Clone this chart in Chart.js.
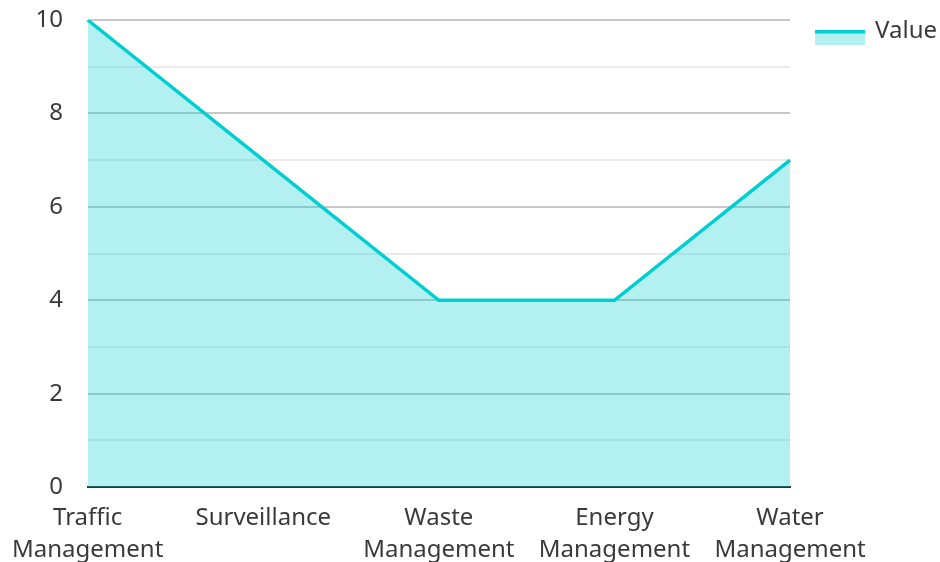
<!DOCTYPE html>
<html>
<head>
<meta charset="utf-8">
<script src="https://cdn.jsdelivr.net/npm/chart.js@4"></script>
<style>
html,body{margin:0;padding:0;background:#fff;}
#wrap{width:940px;height:562px;position:relative;}
</style>
</head>
<body>
<div id="wrap"><canvas id="c" width="940" height="562"></canvas></div>
<script>
const categories = [["Traffic","Management"],"Surveillance",["Waste","Management"],["Energy","Management"],["Water","Management"]];
const seriesName = "Value";
const values = [10, 7, 4, 4, 7];
const yTicks = [0, 2, 4, 6, 8, 10];

const lineColor = "#00CED1";
const fillColor = "rgba(0,206,209,0.3)";
const textColor = "#3a3a3a";
const FONT = "'Noto Sans', 'Open Sans', sans-serif";
const FS = 24;

const legendSymbol = {
  id: 'legendSymbol',
  afterDraw(chart) {
    const lg = chart.legend;
    if (!lg || !lg.legendHitBoxes || !lg.legendHitBoxes.length) return;
    const hb = lg.legendHitBoxes[0];
    const top = hb.top + 11;
    const left = hb.left + 6;
    const ctx = chart.ctx;
    ctx.save();
    ctx.fillStyle = fillColor;
    ctx.fillRect(left, top, 50, 15);
    ctx.strokeStyle = lineColor;
    ctx.lineWidth = 3.5;
    ctx.beginPath();
    ctx.moveTo(left, top + 1.75);
    ctx.lineTo(left + 50, top + 1.75);
    ctx.stroke();
    ctx.restore();
  }
};

new Chart(document.getElementById('c'), {
  type: 'line',
  data: {
    labels: categories,
    datasets: [{
      label: seriesName,
      data: values,
      borderColor: lineColor,
      backgroundColor: fillColor,
      borderWidth: 3.5,
      fill: 'origin',
      tension: 0,
      pointRadius: 0,
      pointHoverRadius: 0
    }]
  },
  options: {
    responsive: false,
    animation: false,
    events: [],
    layout: { padding: { top: 0, right: -7, left: 30, bottom: -19 } },
    plugins: {
      tooltip: { enabled: false },
      legend: {
        position: 'right',
        align: 'start',
        labels: {
          boxWidth: 54,
          boxHeight: 14,
          padding: 19,
          color: textColor,
          font: { family: FONT, size: FS },
          generateLabels(chart) {
            const ds = chart.data.datasets[0];
            return [{
              text: ds.label,
              fillStyle: 'rgba(0,0,0,0)',
              strokeStyle: 'rgba(0,0,0,0)',
              lineWidth: 0,
              fontColor: textColor,
              datasetIndex: 0,
              hidden: false
            }];
          }
        }
      }
    },
    scales: {
      x: {
        offset: false,
        afterFit(scale) { scale.paddingLeft = 0; scale.paddingRight = 0; },
        grid: { display: false, drawTicks: false },
        border: { display: true, color: '#333', width: 2 },
        ticks: {
          color: textColor,
          font: { family: FONT, size: FS, lineHeight: 1.33 },
          padding: 15,
          maxRotation: 0,
          autoSkip: false
        }
      },
      y: {
        min: 0,
        max: 10,
        afterBuildTicks(scale) {
          const t = [];
          for (let v = 0; v <= 10; v++) t.push({ value: v });
          scale.ticks = t;
        },
        grid: {
          drawTicks: true,
          tickLength: 19,
          tickColor: 'rgba(0,0,0,0)',
          lineWidth: 2,
          color: (ctx) => (ctx.tick && yTicks.includes(ctx.tick.value)) ? '#c8c8c8' : '#ebebeb'
        },
        border: { display: false },
        ticks: {
          color: textColor,
          font: { family: FONT, size: FS },
          padding: 5.6,
          callback: (v) => yTicks.includes(v) ? String(v) : ''
        }
      }
    }
  },
  plugins: [legendSymbol]
});
</script>
</body>
</html>
